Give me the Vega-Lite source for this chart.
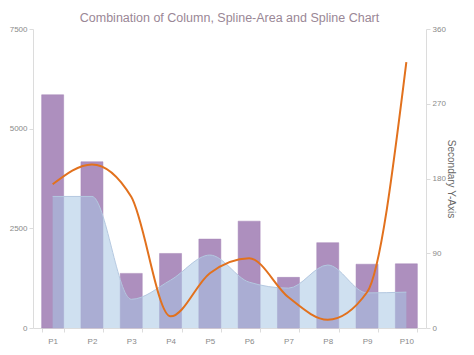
{
  "$schema": "https://vega.github.io/schema/vega-lite/v6.json",
  "width": 393,
  "height": 299,
  "autosize": "none",
  "padding": {"left": 33, "top": 29, "right": 48, "bottom": 27},
  "background": "white",
  "title": {
    "text": "Combination of Column, Spline-Area and Spline Chart",
    "font": "Liberation Sans",
    "fontSize": 12.5,
    "fontWeight": "normal",
    "color": "#9a8796",
    "offset": 1,
    "anchor": "middle"
  },
  "config": {
    "view": {"stroke": null},
    "axis": {
      "labelFont": "Liberation Sans",
      "labelFontSize": 8,
      "labelColor": "#8a8a8a",
      "domainColor": "#dcdcdc",
      "tickColor": "#dcdcdc",
      "tickSize": 4,
      "grid": false,
      "titleFont": "Liberation Sans",
      "titleFontWeight": "normal",
      "titleColor": "#666666",
      "titleFontSize": 10
    }
  },
  "data": {
    "values": [
      {"cat": "P1", "col": 5850, "area": 3300, "line": 173},
      {"cat": "P2", "col": 4170, "area": 3300, "line": 197},
      {"cat": "P3", "col": 1370, "area": 720, "line": 158},
      {"cat": "P4", "col": 1870, "area": 1200, "line": 14},
      {"cat": "P5", "col": 2230, "area": 1830, "line": 66},
      {"cat": "P6", "col": 2680, "area": 1150, "line": 84},
      {"cat": "P7", "col": 1270, "area": 1000, "line": 37},
      {"cat": "P8", "col": 2140, "area": 1580, "line": 10},
      {"cat": "P9", "col": 1600, "area": 880, "line": 43},
      {"cat": "P10", "col": 1610, "area": 900, "line": 320}
    ]
  },
  "encoding": {
    "x": {
      "field": "cat",
      "type": "nominal",
      "sort": null,
      "scale": {"paddingInner": 0.44, "paddingOuter": 0.22},
      "axis": {"title": null, "labelAngle": 0, "tickBand": "extent", "labelPadding": 5}
    }
  },
  "layer": [
    {
      "mark": {"type": "bar", "fill": "#ad8fbe", "stroke": "#a585b6", "strokeWidth": 0.5},
      "encoding": {
        "y": {
          "field": "col",
          "type": "quantitative",
          "scale": {"domain": [0, 7500]},
          "axis": {"title": null, "values": [0, 2500, 5000, 7500], "format": "d", "labelPadding": 2}
        }
      }
    },
    {
      "mark": {"type": "area", "interpolate": "monotone", "fill": "#a8c6e4", "fillOpacity": 0.55, "line": {"color": "#b4c8e0", "strokeWidth": 1}},
      "encoding": {
        "y": {
          "field": "area",
          "type": "quantitative",
          "scale": {"domain": [0, 7500]},
          "axis": null
        }
      }
    },
    {
      "mark": {"type": "line", "interpolate": "monotone", "color": "#e2711d", "strokeWidth": 2},
      "encoding": {
        "y": {
          "field": "line",
          "type": "quantitative",
          "scale": {"domain": [0, 360]},
          "axis": {"orient": "right", "title": "Secondary Y-Axis", "values": [0, 90, 180, 270, 360], "labelPadding": 2, "titlePadding": 0}
        }
      }
    }
  ],
  "resolve": {"scale": {"y": "independent"}}
}
